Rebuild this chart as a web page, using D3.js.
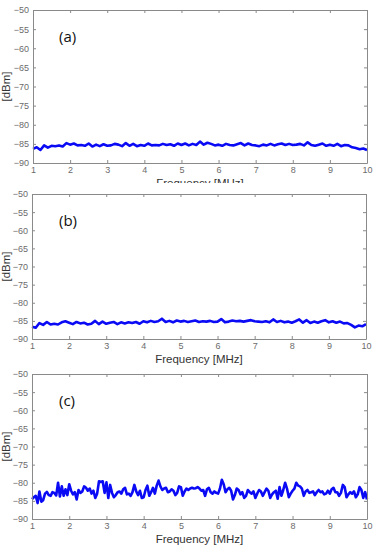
<!DOCTYPE html>
<html>
<head>
<meta charset="utf-8">
<script src="https://cdn.jsdelivr.net/npm/d3@7"></script>
<style>
  body { margin: 0; background: #fff; }
  .axis path, .axis line { stroke: #8a8a8a; }
  .axis text { fill: #6b6b6b; font-family: "Liberation Sans", Arial, sans-serif; font-size: 9px; }
</style>
</head>
<body>
<div id="chart"></div>
<script>
// tick labels
const xTicks = [1, 2, 3, 4, 5, 6, 7, 8, 9, 10];
const yTicks = [-50, -55, -60, -65, -70, -75, -80, -85, -90];

// (a) spectrum, 1..10 MHz every 0.1 MHz
const seriesA = [
  -86.3, -85.9, -86.6, -85.4, -86.0, -85.5, -85.6, -85.4, -85.7, -84.8,
  -85.2, -84.9, -85.4, -85.3, -85.5, -84.9, -85.7, -85.2, -85.6, -85.1,
  -85.5, -85.4, -85.0, -85.2, -85.6, -84.8, -85.5, -85.0, -85.6, -85.3,
  -85.5, -84.9, -85.4, -85.3, -85.4, -85.0, -85.3, -85.1, -85.5, -84.9,
  -85.3, -84.9, -85.4, -85.0, -85.3, -84.4, -85.2, -84.7, -85.0, -85.4,
  -85.2, -85.5, -85.0, -85.3, -85.4, -85.1, -84.8, -85.4, -84.9, -85.3,
  -85.4, -85.6, -85.2, -85.4, -85.0, -85.4, -85.1, -84.9, -85.3, -85.0,
  -85.3, -85.2, -85.0, -85.4, -84.6, -85.3, -85.5, -85.2, -84.9, -85.5,
  -85.2, -85.5, -85.0, -85.6, -85.3, -85.4, -85.9, -86.1, -86.4, -86.2, -86.6
];

// (b) spectrum, 1..10 MHz every 0.1 MHz
const seriesB = [
  -86.6, -86.9, -85.6, -86.1, -85.3, -86.0, -85.8, -86.0, -85.4, -85.1,
  -85.5, -85.9, -85.3, -85.7, -85.5, -86.0, -85.8, -85.0, -85.9, -85.2,
  -85.8, -85.5, -85.3, -85.9, -85.4, -85.7, -85.4, -85.6, -85.3, -85.8,
  -85.1, -85.4, -85.0, -85.3, -85.1, -84.4, -85.3, -85.0, -85.4, -84.9,
  -85.2, -85.0, -85.3, -85.1, -84.9, -85.3, -85.1, -85.2, -85.0, -85.3,
  -85.2, -84.5, -85.4, -85.2, -84.9, -85.1, -85.0, -85.2, -85.0, -84.8,
  -85.1, -85.2, -85.3, -85.1, -85.4, -84.6, -85.3, -85.0, -85.4, -85.2,
  -85.5, -85.1, -84.6, -85.5, -84.8, -85.6, -85.2, -85.5, -85.1, -84.8,
  -85.4, -85.1, -85.5, -85.2, -85.7, -85.6, -86.1, -86.8, -86.3, -86.5, -85.9
];

// (c) spectrum, 1..10 MHz every 0.05 MHz
const seriesC = [
  -84.5, -84.0, -83.6, -85.6, -82.4, -85.2, -84.8, -83.0, -82.5, -83.4, -83.6, -82.6, -82.8, -83.5, -80.0, -83.8, -81.0, -83.6, -81.8, -83.4,
  -80.4, -82.2, -83.2, -82.6, -84.6, -82.0, -82.8, -82.4, -81.0, -81.4, -82.2, -81.6, -83.0, -82.2, -84.2, -83.0, -79.6, -79.8, -79.6, -82.8,
  -79.9, -84.2, -80.6, -82.8, -84.0, -83.4, -82.6, -82.4, -83.0, -81.8, -81.4, -83.2, -83.0, -83.6, -82.6, -80.6, -82.4, -83.4, -82.2, -84.2,
  -84.0, -82.0, -80.8, -83.6, -82.6, -81.4, -83.0, -80.8, -79.4, -81.0, -82.0, -81.6, -81.4, -82.6, -82.4, -81.8, -82.2, -83.4, -82.8, -81.0,
  -81.2, -83.6, -82.4, -81.6, -82.0, -81.6, -81.4, -81.6, -81.5, -81.2, -81.6, -82.2, -82.0, -83.6, -81.8, -81.4, -82.6, -83.0, -82.4, -82.8,
  -83.0, -81.6, -79.2, -80.4, -82.6, -81.8, -81.4, -82.2, -84.6, -83.4, -81.6, -82.0, -83.2, -82.6, -84.2, -83.6, -82.0, -82.6, -83.0, -82.4,
  -84.2, -83.0, -82.0, -82.4, -83.6, -82.6, -81.6, -82.2, -84.2, -83.2, -82.6, -82.2, -84.4, -81.2, -83.6, -82.0, -80.0, -81.6, -84.0, -83.0,
  -82.2, -81.6, -80.0, -80.8, -81.0, -81.6, -83.6, -82.4, -82.0, -82.8, -82.6, -82.4, -83.4, -82.6, -82.0, -82.6, -82.4, -83.2, -83.0, -82.2,
  -83.0, -81.8, -81.4, -82.6, -82.6, -83.6, -82.8, -80.6, -81.2, -84.0, -83.2, -82.6, -83.0, -82.4, -84.0, -83.2, -81.2, -82.0, -84.2, -82.6,
  -84.6
];

const panels = [
  {label: "(a)", data: seriesA, step: 0.1, top: 10, bottom: 163, left: 33, right: 367, bgTop: 0},
  {label: "(b)", data: seriesB, step: 0.1, top: 194, bottom: 339, left: 32, right: 366, bgTop: 183},
  {label: "(c)", data: seriesC, step: 0.05, top: 374, bottom: 519, left: 32, right: 367, bgTop: 366}
];

const W = 377, H = 550;
const svg = d3.select("#chart").append("svg")
    .attr("width", W)
    .attr("height", H);

panels.forEach(p => {
    let g = svg.append("g");

    // white backing so each panel hides the one above it
    g.append("rect")
        .attr("x", 0).attr("y", p.bgTop)
        .attr("width", W).attr("height", H - p.bgTop)
        .attr("fill", "#fff");

    let x = d3.scaleLinear().domain([1, 10]).range([p.left, p.right]);
    let y = d3.scaleLinear().domain([-90, -50]).range([p.bottom, p.top]);

    let pts = p.data.map((v, i) => [1 + i * p.step, v]);

    let line = d3.line()
        .x(d => x(d[0]))
        .y(d => y(d[1]));

    g.append("path")
        .datum(pts)
        .attr("d", line)
        .attr("fill", "none")
        .attr("stroke", "#0a0af5")
        .attr("stroke-width", 2.6)
        .attr("stroke-linejoin", "round");

    // axes with inward ticks on all sides
    g.append("g").attr("class", "axis")
        .attr("transform", `translate(0,${p.bottom})`)
        .call(d3.axisBottom(x).tickValues(xTicks).tickSizeInner(-3).tickSizeOuter(0).tickPadding(4).tickFormat(d3.format("d")));

    g.append("g").attr("class", "axis")
        .attr("transform", `translate(0,${p.top})`)
        .call(d3.axisTop(x).tickValues(xTicks).tickSizeInner(-3).tickSizeOuter(0).tickFormat(""));

    g.append("g").attr("class", "axis")
        .attr("transform", `translate(${p.left},0)`)
        .call(d3.axisLeft(y).tickValues(yTicks).tickSizeInner(-3).tickSizeOuter(0).tickPadding(4).tickFormat(d3.format("d")));

    g.append("g").attr("class", "axis")
        .attr("transform", `translate(${p.right},0)`)
        .call(d3.axisRight(y).tickValues(yTicks).tickSizeInner(-3).tickSizeOuter(0).tickFormat(""));

    // axis titles
    g.append("text")
        .attr("x", (p.left + p.right) / 2)
        .attr("y", p.bottom + 24)
        .attr("text-anchor", "middle")
        .attr("font-family", "Liberation Sans, Arial, sans-serif")
        .attr("font-size", 11.5)
        .attr("fill", "#333")
        .text("Frequency [MHz]");

    g.append("text")
        .attr("transform", `translate(10, ${(p.top + p.bottom) / 2}) rotate(-90)`)
        .attr("text-anchor", "middle")
        .attr("font-family", "Liberation Sans, Arial, sans-serif")
        .attr("font-size", 11.5)
        .attr("fill", "#333")
        .text("[dBm]");

    g.append("text")
        .attr("x", 59)
        .attr("y", p.top + 32)
        .attr("font-family", "Open Sans, sans-serif")
        .attr("font-size", 15)
        .attr("fill", "#111")
        .text(p.label);
});
</script>
</body>
</html>
